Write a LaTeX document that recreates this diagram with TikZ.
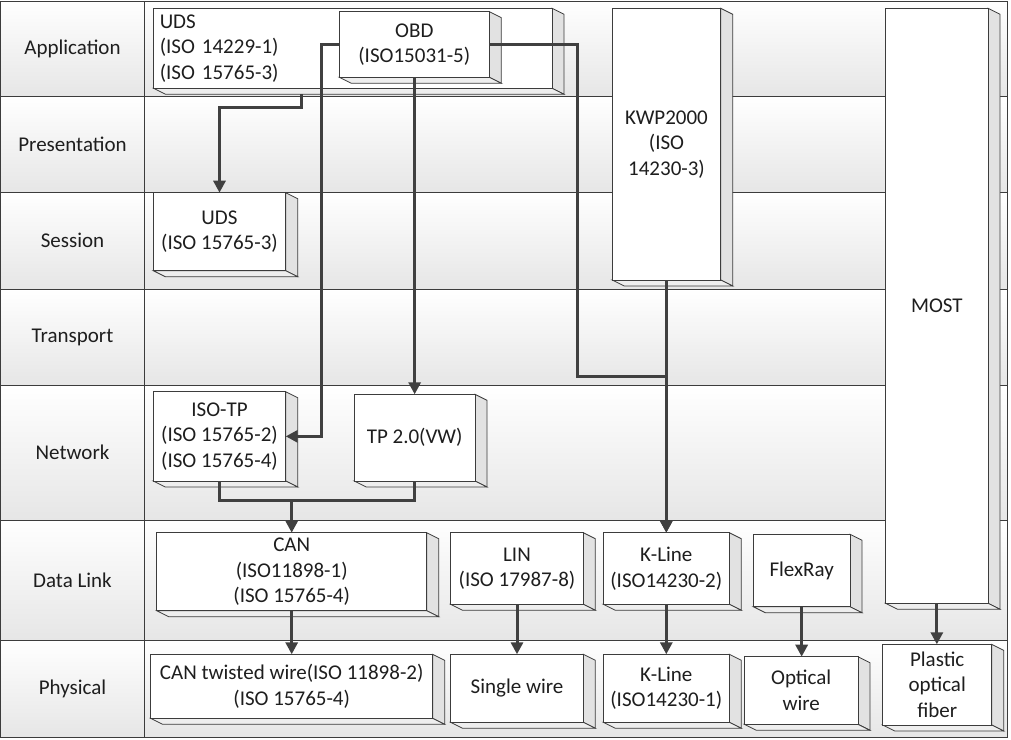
\documentclass[tikz,border=0pt]{standalone}
\usepackage{fontspec}
\setmainfont{Carlito}
\usetikzlibrary{arrows.meta,calc}
\definecolor{linec}{HTML}{404040}
\definecolor{framec}{HTML}{3C3C3C}
\definecolor{sidec}{HTML}{E2E2E2}
\definecolor{botc}{HTML}{EEEEEE}
\definecolor{rowbot}{HTML}{E6E6E6}
\definecolor{txtc}{HTML}{1E1E1E}
\tikzset{
  frontbox/.style={draw=framec, line width=0.8pt, fill=white, inner sep=0pt, outer sep=0pt,
    align=center, font=\fontsize{21}{25.5}\selectfont, text=txtc},
  sideface/.style={draw=framec, line width=0.8pt, fill=sidec},
  botface/.style={draw=framec, line width=0.8pt, fill=botc},
  conn/.style={draw=linec, line width=3pt, -{Triangle[width=12pt,length=12pt]}},
  plainconn/.style={draw=linec, line width=3pt},
  rowbg/.style={draw=framec, line width=0.8pt, top color=white, bottom color=rowbot},
  layerlabel/.style={font=\fontsize{21}{25.5}\selectfont, text=txtc, inner sep=0pt}
}
% name, x1, y1, x2, y2, extra options, text
\newcommand\threedbox[7]{%
  \pgfmathsetmacro\bw{#4-#2}%
  \pgfmathsetmacro\bh{#5-#3}%
  \pgfmathsetmacro\cx{(#2+#4)/2}%
  \pgfmathsetmacro\cy{(#3+#5)/2}%
  \draw[sideface] (#4,#3) -- ++(12,6) -- ++(0,\bh) -- (#4,#5) -- cycle;
  \draw[botface] (#2,#5) -- ++(12,6) -- ++(\bw,0) -- (#4,#5) -- cycle;
  \node[frontbox, minimum width=\bw pt, minimum height=\bh pt, #6] (#1) at (\cx,\cy) {#7};
}
\begin{document}
\begin{tikzpicture}[x=1pt,y=-1pt]
\useasboundingbox (0,0) rectangle (1011,739);
% layer rows
\foreach \a/\b/\nm/\txt in {1/96.5/app/Application, 96.5/192.5/pres/Presentation,
    192.5/289/sess/Session, 289/385.5/trans/Transport, 385.5/520/net/Network,
    520/640/dl/Data Link, 640/737.5/phy/Physical}{
  \shadedraw[rowbg] (0.5,\a) rectangle (144.5,\b);
  \shadedraw[rowbg] (144.5,\a) rectangle (1007.5,\b);
  \node[layerlabel] (lab-\nm) at (72.5,{(\a+\b)/2}) {\txt};
}
% boxes
\threedbox{udsapp}{153.5}{8.3}{552}{88.3}{text width=386pt, align=left}{UDS\\(ISO 14229-1)\\(ISO 15765-3)}
\threedbox{obd}{339.3}{11.7}{489.3}{77.3}{}{OBD\\(ISO15031-5)}
\threedbox{kwp}{612.3}{8.3}{720.7}{280}{}{KWP2000\\(ISO\\14230-3)}
\threedbox{most}{885.7}{8.3}{988}{603.3}{}{MOST}
\threedbox{udss}{153.3}{192.7}{285.7}{270.7}{}{UDS\\(ISO 15765-3)}
\threedbox{isotp}{153.3}{391.7}{285.7}{481}{}{ISO-TP\\(ISO 15765-2)\\(ISO 15765-4)}
\threedbox{tp}{354.3}{394.3}{475}{481}{}{TP 2.0(VW)}
\threedbox{can}{156.7}{532.7}{426.7}{610.7}{}{CAN\\(ISO11898-1)\\(ISO 15765-4)}
\threedbox{lin}{450.7}{532.7}{583.3}{604.3}{}{LIN\\(ISO 17987-8)}
\threedbox{kl2}{603.3}{532.7}{729.3}{604.3}{}{K-Line\\(ISO14230-2)}
\threedbox{flex}{753.3}{534.3}{850}{606.7}{}{FlexRay}
\threedbox{canw}{150.7}{654.3}{432.7}{718.3}{}{CAN twisted wire(ISO 11898-2)\\(ISO 15765-4)}
\threedbox{single}{450.7}{654.3}{583.3}{722.3}{}{Single wire}
\threedbox{kl1}{603.3}{654.3}{729.3}{722.3}{}{K-Line\\(ISO14230-1)}
\threedbox{opt}{744.3}{656.7}{858}{724.3}{}{Optical\\wire}
\threedbox{pof}{882.7}{644.3}{991.7}{725}{}{Plastic\\optical\\fiber}
% connectors
\draw[conn] ([xshift=-51.75pt, yshift=-6pt]udsapp.south) -- ++(0,13) -| (udss.north);
\draw[conn] (obd.west) -- ++(-18,0) |- (isotp.east);
\draw[conn] (obd.south -| tp.north) -- (tp.north);
\coordinate (bend) at (577,376);
\draw[conn] (obd.east) -| (bend) -- (bend -| kl2.north) -- (kl2.north);
\draw[conn] (kwp.south -| kl2.north) -- (kl2.north);
\coordinate (merge) at (can.north |- 0,500);
\draw[plainconn] (tp.south) |- (merge);
\draw[conn] (isotp.south) |- (merge) -- (can.north);
\draw[conn] (can.south) -- (can.south |- canw.north);
\draw[conn] (lin.south) -- (lin.south |- single.north);
\draw[conn] (kl2.south) -- (kl1.north);
\draw[conn] (flex.south) -- (flex.south |- opt.north);
\draw[conn] (most.south) -- (most.south |- pof.north);
\end{tikzpicture}
\end{document}
